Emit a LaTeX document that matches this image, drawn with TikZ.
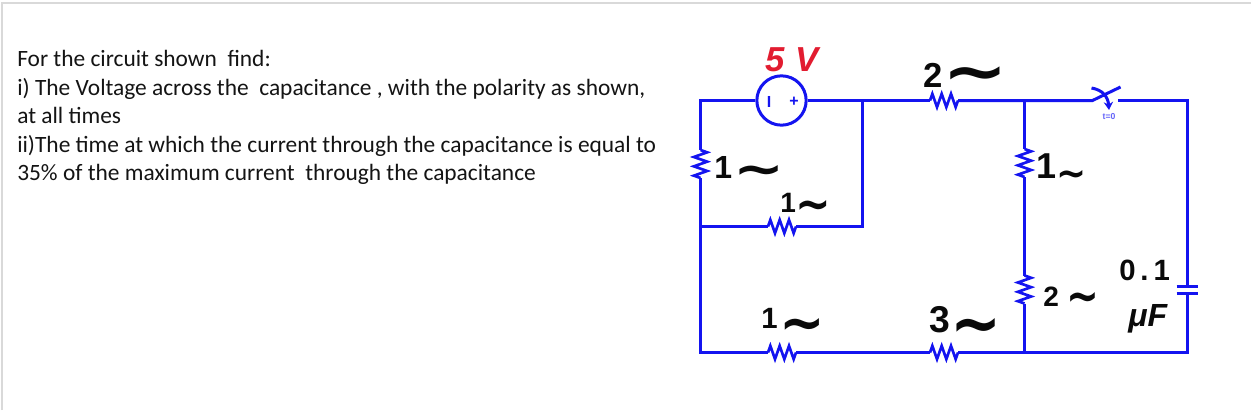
\documentclass[tikz,border=0pt]{standalone}
\usepackage{graphicx}
\usepackage{fontspec}
\setmainfont{Carlito}
\newfontfamily\hand{Liberation Sans}
\newfontfamily\tldfont{DejaVu Sans}
\usetikzlibrary{decorations.pathmorphing,arrows.meta}
\definecolor{wireblue}{RGB}{20,20,240}
\definecolor{tlabel}{RGB}{100,100,250}
\definecolor{hwred}{RGB}{226,28,48}
\definecolor{hwblack}{RGB}{10,10,10}
% digit, gap, tilde ink width, tilde ink height, tilde ink bottom above the baseline
\newcommand{\hl}[5]{#1\hspace{#2}\raisebox{\dimexpr#5-#4\relax}{\resizebox{\dimexpr#3*137/100\relax}{\dimexpr#4*2\relax}{\tldfont ∼}}}
\tikzset{
  wire/.style={draw=wireblue,line width=2.25pt},
  res/.style={draw=wireblue,line width=2pt,decorate,decoration={zigzag,segment length=7pt,amplitude=5pt}},
  para/.style={anchor=base west,inner sep=0pt,font=\fontsize{17.55}{21}\selectfont,text=black!92},
  hw/.style={inner sep=0pt,anchor=base west,text=hwblack},
  hwbig/.style={inner sep=0pt,font=\hand\bfseries\itshape\fontsize{26}{28}\selectfont,text=hwred},
  srcmark/.style={inner sep=0pt,text=wireblue,font=\hand\bfseries\fontsize{12}{12}\selectfont},
  sheet/.style={draw=black!15,line width=1pt}
}
\newcommand{\hf}[1]{\hand\bfseries\fontsize{#1}{#1}\selectfont}
\begin{document}
\begin{tikzpicture}[x=0.75pt,y=-0.75pt]
\useasboundingbox (0,0) rectangle (1251,410);
\fill[white] (0,0) rectangle (1251,410);
\draw[sheet] (2,410) -- (2,3) -- (1251,3);

% text
\node[para] (t1) at (17,67) {For the circuit shown\ \ find:};
\node[para] (t2) at (17,95) {i) The Voltage across the\ \ capacitance , with the polarity as shown,};
\node[para] (t3) at (17,123.5) {at all times};
\node[para] (t4) at (17,152) {ii)The time at which the current through the capacitance is equal to};
\node[para] (t5) at (17,180.5) {35\% of the maximum current\ \ through the capacitance};

% junctions and corners
\coordinate (tl) at (700.5,100.5);
\coordinate (j1) at (862.5,100.5);
\coordinate (j2) at (1024.5,100.5);
\coordinate (tr) at (1187.5,100.5);
\coordinate (ml) at (700.5,226.5);
\coordinate (mr) at (862.5,226.5);
\coordinate (bl) at (700.5,352.5);
\coordinate (j3) at (1024.5,352.5);
\coordinate (br) at (1187.5,352.5);
% resistor ends
\coordinate (r2a) at (930,100.5);   \coordinate (r2b) at (958,100.5);
\coordinate (rLa) at (700.5,150); \coordinate (rLb) at (700.5,178);
\coordinate (rMa) at (768,226.5);   \coordinate (rMb) at (796,226.5);
\coordinate (rBa) at (768,352.5);   \coordinate (rBb) at (796,352.5);
\coordinate (r3a) at (930,352.5);   \coordinate (r3b) at (958,352.5);
\coordinate (rRa) at (1024.5,149);  \coordinate (rRb) at (1024.5,177);
\coordinate (rSa) at (1024.5,275.5);\coordinate (rSb) at (1024.5,303.5);
% switch and capacitor
\coordinate (swa) at (1092.5,100.5);
\coordinate (swt) at (1120.5,87);
\coordinate (swb) at (1118,100.5);
\coordinate (capT) at (1187.5,286);
\coordinate (capB) at (1187.5,293);

% source
\node[circle,draw=wireblue,line width=2.25pt,minimum size=37pt,inner sep=0pt] (src) at (781.5,100.5) {};
\node[srcmark] (srcI) at (769,101.5) {I};
\node[srcmark] (srcP) at (794,101.5) {+};

% wires
\draw[wire] (src.west) -- (tl) -- (rLa);
\draw[wire] (rLb) -- (bl) -- (rBa);
\draw[wire] (ml) -- (rMa);
\draw[wire] (rMb) -- (mr) -- (j1);
\draw[wire] (src.east) -- (r2a);
\draw[wire] (r2b) -- (swa) -- (swt);
\draw[wire] (swb) -- (tr) -- (capT);
\draw[wire] (capB) -- (br) -- (r3b);
\draw[wire] (r3a) -- (rBb);
\draw[wire] (j2) -- (rRa);
\draw[wire] (rRb) -- (rSa);
\draw[wire] (rSb) -- (j3);

% resistors
\draw[res] (r2a) -- (r2b);
\draw[res] (rLa) -- (rLb);
\draw[res] (rMa) -- (rMb);
\draw[res] (rBa) -- (rBb);
\draw[res] (r3a) -- (r3b);
\draw[res] (rRa) -- (rRb);
\draw[res] (rSa) -- (rSb);

% capacitor plates
\draw[wire] ([xshift=-8.2pt]capT) -- ([xshift=8.2pt]capT);
\draw[wire] ([xshift=-8.2pt]capB) -- ([xshift=8.2pt]capB);

% switch arrow and label
\coordinate (arrS) at (1091.5,88);
\coordinate (arrE) at (1109,110);
\draw[wire,-{Stealth[length=6pt,width=7pt]}] (arrS) .. controls (1103,90) and (1108,97) .. (arrE);
\node[inner sep=0pt,text=tlabel,font=\hand\bfseries\fontsize{6.5}{7}\selectfont] (tz) at (1109,116.5) {t=0};

% values
\node[hwbig] (v5) at (792,59.5) {5\,\,V};
\node[hw,font=\hf{26}] (l2) at (923,87) {\hl{2}{0pt}{36pt}{10pt}{5pt}};
\node[hw,font=\hf{24}] (lL) at (714,178) {\hl{1}{1.2pt}{28pt}{7.5pt}{2.2pt}};
\node[hw,font=\hf{21}] (lM) at (780,212) {\hl{1}{0pt}{19.5pt}{7.5pt}{1.5pt}};
\node[hw,font=\hf{22}] (lB) at (761,328) {\hl{1}{1.7pt}{25pt}{9pt}{-1.5pt}};
\node[hw,font=\hf{28}] (l3) at (929,332) {\hl{3}{0pt}{28pt}{10.5pt}{0pt}};
\node[hw,font=\hf{27}] (lR) at (1036,178) {\hl{1}{0pt}{16.5pt}{6pt}{0pt}};
\node[hw,font=\hf{21}] (lS) at (1043,306) {\hl{2}{5.5pt}{18pt}{7.5pt}{3pt}};
\node[hw,font=\hf{22}] (c1) at (1119,280) {0\,.\,1};
\node[hw,font=\hand\bfseries\itshape\fontsize{24}{26}\selectfont] (c2) at (1128,326) {μF};
\end{tikzpicture}
\end{document}
